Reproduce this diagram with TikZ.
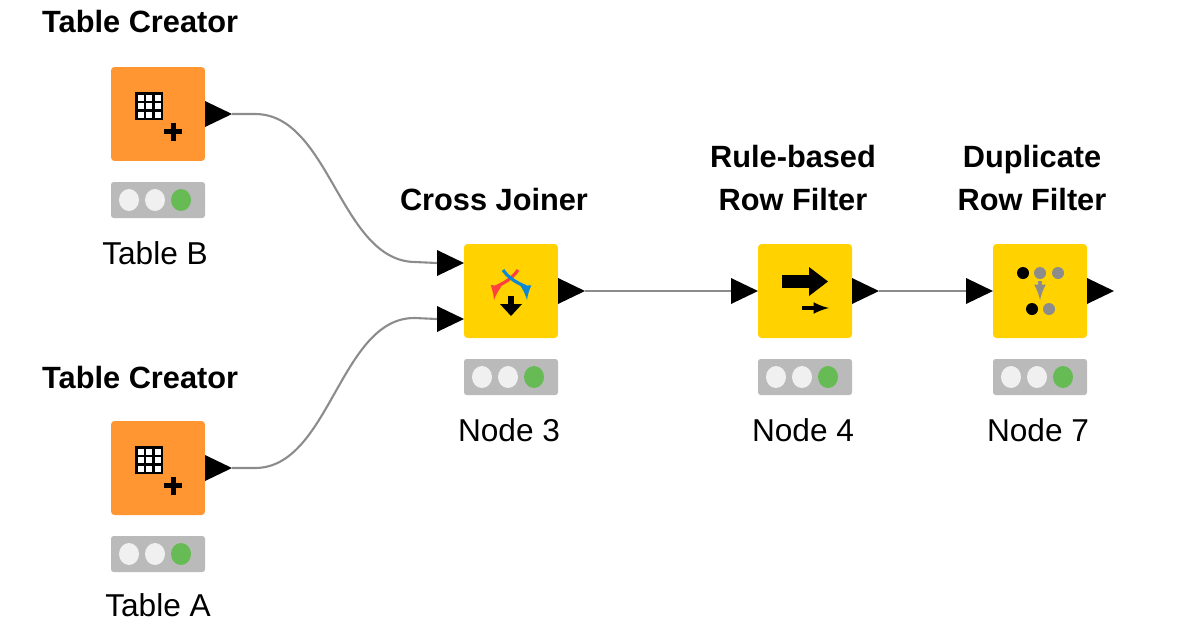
\documentclass[tikz,border=0pt]{standalone}
\usepackage{fontspec}
\setmainfont{Liberation Sans}
\begin{document}
\begin{tikzpicture}[x=0.02cm,y=-0.02cm,
 box/.style={minimum size=1.88cm,inner sep=0pt,rounded corners=2pt,draw=none},
 bar/.style={fill=black!27,rounded corners=1.5pt},
 lbl/.style={font=\fontsize{18}{20}\selectfont},
 ttl/.style={font=\fontsize{17.5}{25}\selectfont\bfseries,align=center},
 port/.style={fill=black},
 conn/.style={draw=black!45,line width=1.2pt}]
\useasboundingbox (0,0) rectangle (1200,630);
\definecolor{korange}{HTML}{FF9632}
\definecolor{kyellow}{HTML}{FFD200}
\definecolor{kgreen}{HTML}{66BB55}
\newcommand\kstatus[2]{%
 \fill[bar] (#1-47,#2+68) rectangle (#1+47,#2+104);
 \fill[black!6] (#1-29,#2+86) ellipse (10 and 11);
 \fill[black!6] (#1-3,#2+86) ellipse (10 and 11);
 \fill[kgreen] (#1+23,#2+86) ellipse (10 and 11);}
\newcommand\kout[2]{\fill[port] (#1+47,#2-13) -- (#1+74,#2) -- (#1+47,#2+13) -- cycle;}
\newcommand\kin[2]{\fill[port] (#1-74,#2-13) -- (#1-47,#2) -- (#1-74,#2+13) -- cycle;}
% nodes
\node[box,fill=korange] (tb) at (158,114) {};
\node[box,fill=korange] (ta) at (158,468) {};
\node[box,fill=kyellow] (cj) at (511,291) {};
\node[box,fill=kyellow] (rf) at (805,291) {};
\node[box,fill=kyellow] (df) at (1040,291) {};
\foreach \x/\y in {158/114,158/468,511/291,805/291,1040/291}{\kstatus{\x}{\y}\kout{\x}{\y}}
\kin{511}{263}\kin{511}{319}\kin{805}{291}\kin{1040}{291}
% titles and labels
\node[ttl,anchor=west] (t1) at (36,22) {Table Creator};
\node[ttl,anchor=west] (t2) at (36,377) {Table Creator};
\node[ttl] (t3) at (494,200) {Cross Joiner};
\node[ttl] (t4) at (793,178) {Rule-based\\Row Filter};
\node[ttl] (t5) at (1032,178) {Duplicate\\Row Filter};
\node[lbl] (l1) at (155,253) {Table B};
\node[lbl] (l2) at (158,605) {Table A};
\node[lbl] (l3) at (509,430) {Node 3};
\node[lbl] (l4) at (803,430) {Node 4};
\node[lbl] (l5) at (1038,430) {Node 7};
% ports coords
\coordinate (tbo) at (232,114); \coordinate (tao) at (232,468);
\coordinate (cji1) at (437,263); \coordinate (cji2) at (437,319);
\coordinate (cjo) at (585,291); \coordinate (rfi) at (731,291);
\coordinate (rfo) at (879,291); \coordinate (dfi) at (966,291);
\draw[conn] (tbo) -- (255,114) .. controls (330,114) and (340,261) .. (415,262) -- (cji1);
\draw[conn] (tao) -- (255,468) .. controls (330,468) and (340,317) .. (415,318) -- (cji2);
\draw[conn] (cjo) -- (rfi);
\draw[conn] (rfo) -- (dfi);
% icons: table creator
\foreach \y in {114,468}{
 \fill (135,\y-22) rectangle (163,\y+6);
 \foreach \i in {0,1,2}\foreach \j in {0,1,2}{\fill[white] (137.5+\i*8.5,\y-19.5+\j*8.5) rectangle (143.5+\i*8.5,\y-13.5+\j*8.5);}
 \fill (164,\y+15) rectangle (182,\y+20); \fill (170.5,\y+8.5) rectangle (175.5,\y+26.5);}
% cross joiner icon
\draw[red!75,line width=1.8pt,-latex] (518,270) .. controls (510,282) and (496,286) .. (494,300);
\draw[cyan!70!blue,line width=1.8pt,-latex] (503,270) .. controls (511,282) and (526,286) .. (527,300);
\fill (508,296) rectangle (514,306); \fill (500,304) -- (522,304) -- (511,316) -- cycle;
% rule filter icon
\fill (782,275) rectangle (811,288); \fill (809,267) -- (828,281.5) -- (809,296) -- cycle;
\draw[line width=2pt,-latex] (802,308) -- (829,308);
% duplicate filter icon
\fill (1023,273) circle (6); \fill[black!45] (1040,273) circle (6); \fill[black!45] (1058,273) circle (6);
\draw[black!45,line width=2pt,-latex] (1040,281) -- (1040,300);
\fill (1032,309) circle (6); \fill[black!45] (1049,309) circle (6);
\end{tikzpicture}
\end{document}
